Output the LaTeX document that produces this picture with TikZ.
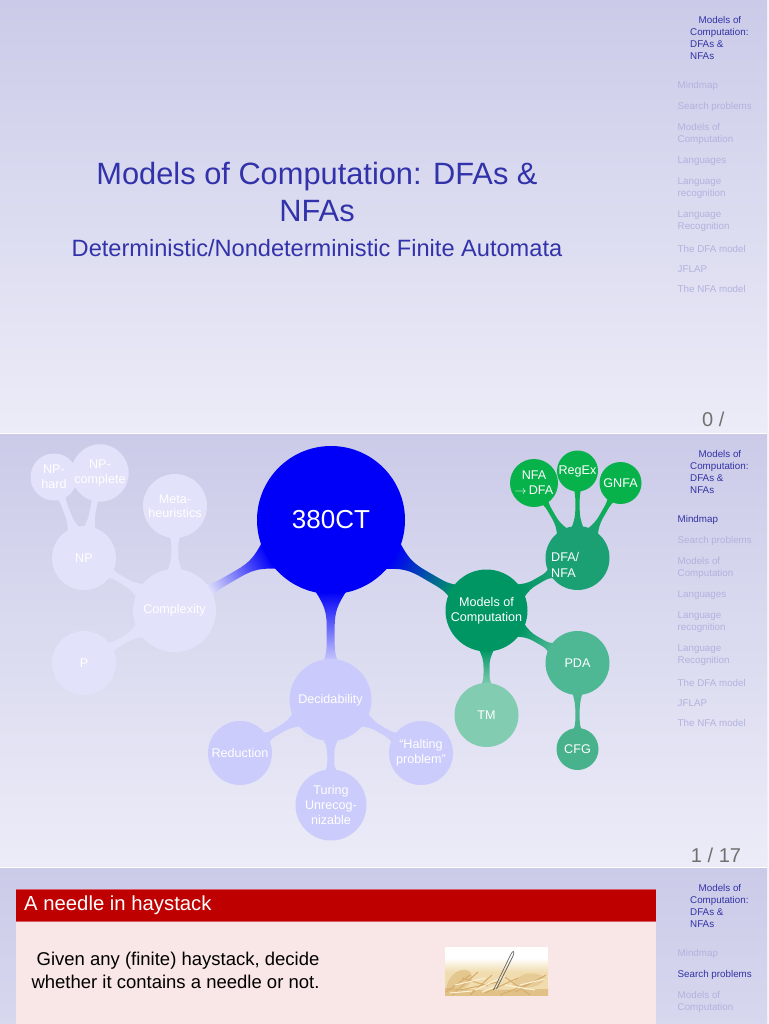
\documentclass[tikz,border=0pt]{standalone}
\usepackage{fontspec}
\setmainfont{Liberation Sans}
\usetikzlibrary{calc}
\definecolor{bgtop}{RGB}{203,203,233}
\definecolor{bgbot}{RGB}{236,236,248}
\definecolor{cMain}{RGB}{0,0,248}
\definecolor{cCplx}{RGB}{226,226,250}
\definecolor{cDec}{RGB}{202,202,252}
\definecolor{cRed}{RGB}{203,203,252}
\definecolor{cMoc}{RGB}{0,150,100}
\definecolor{cDfa}{RGB}{26,160,115}
\definecolor{cNfa}{RGB}{8,178,75}
\definecolor{cPda}{RGB}{78,184,148}
\definecolor{cTm}{RGB}{130,205,178}
\definecolor{cCfg}{RGB}{72,178,140}
\definecolor{navon}{RGB}{50,50,165}
\definecolor{navoff}{RGB}{178,178,222}
\definecolor{pagenum}{RGB}{112,112,112}
\definecolor{titleblue}{RGB}{50,50,170}
\definecolor{blockhead}{RGB}{190,0,0}
\definecolor{blockedge}{RGB}{215,90,100}
\definecolor{blockbody}{RGB}{249,230,230}
\definecolor{hayA}{RGB}{240,220,175}
\definecolor{hayB}{RGB}{214,172,105}
\definecolor{hayC}{RGB}{252,240,212}
\tikzset{
  mm/.style={circle,inner sep=0pt,outer sep=0pt,align=center,text=white,font=\fontsize{#1}{15}\selectfont},
  mm/.default=12.6,
  navtxt/.style={anchor=north west,inner sep=0pt,align=left,font=\fontsize{9.8}{12}\selectfont,text=navoff},
  navact/.style={navtxt,text=navon},
  pagelab/.style={inner sep=0pt,text=pagenum,font=\fontsize{20}{22}\selectfont},
}
% \conn{a}{b}{ra}{rb}{colA}{colB}{flareA}{flareB}{waist}
\newcommand{\conn}[9]{%
  \path let \p1=($(#2)-(#1)$),\n1={atan2(\y1,\x1)},\n2={veclen(\x1,\y1)} in
    \pgfextra{\xdef\cang{\n1}\pgfmathsetmacro{\clen}{\n2/1pt}\xdef\clen{\clen}};%
  \pgfmathsetmacro{\pa}{#3-2}\pgfmathsetmacro{\pb}{\clen-#4+2}%
  \pgfmathsetmacro{\ga}{#3+0.50*(\clen-#3-#4)}\pgfmathsetmacro{\gb}{\clen-#4-0.30*(\clen-#3-#4)}%
  \pgfmathsetmacro{\ca}{#3+0.16*(\clen-#3-#4)}\pgfmathsetmacro{\caa}{#3+0.26*(\clen-#3-#4)}\pgfmathsetmacro{\cb}{\clen-#4-0.08*(\clen-#3-#4)}%
  \pgfmathsetmacro{\wa}{#9+0.30*#7-0.30*#9}\pgfmathsetmacro{\wb}{#9+0.3*#8-0.3*#9}%
  \shade[transform canvas={shift={(#1)},rotate=\cang},left color=#5,right color=#6,x=1pt,y=1pt]
    (\pa,#7) .. controls (\ca,\wa) and (\caa,#9) .. (\ga,#9)
    -- (\gb,#9) .. controls (\cb,#9) and (\cb,\wb) .. (\pb,#8)
    -- (\pb,-#8) .. controls (\cb,-\wb) and (\cb,-#9) .. (\gb,-#9)
    -- (\ga,-#9) .. controls (\caa,-#9) and (\ca,-\wa) .. (\pa,-#7) -- cycle;%
}
\begin{document}
\begin{tikzpicture}[x=1pt,y=-1pt]
\useasboundingbox (0,0) rectangle (768,1024);
% slide backgrounds
\shade[top color=bgtop,bottom color=bgbot] (0,0) rectangle (768,433);
\shade[top color=bgtop,bottom color=bgbot] (0,434) rectangle (768,867);
\begin{scope}
  \clip (0,868) rectangle (768,1024);
  \shade[top color=bgtop,bottom color=bgbot] (0,868) rectangle (768,1301);
\end{scope}
\fill[white] (0,433) rectangle (768,434.2);
\fill[white] (0,867) rectangle (768,868.2);
\fill[white!70!bgtop] (767,0) rectangle (768,1024);

% ---- slide 1
\node[inner sep=0pt,text=titleblue,font=\fontsize{30.8}{37}\selectfont,align=center] (ttl) at (317,192) {Models of Computation: DFAs \&\\NFAs};
\node[inner sep=0pt,text=titleblue,font=\fontsize{23.6}{26}\selectfont] (sub) at (317,248) {Deterministic/Nondeterministic Finite Automata};
\node[pagelab,anchor=west] (pg0) at (702,419) {0 /};

% ---- sidebars
\foreach \o/\s in {0/a,434/b,868/c}{
  \node[navact,anchor=north west] (hd\s) at (690,{\o+16}) {\hspace*{8.5pt}Models of\\Computation:\\DFAs \&\\NFAs};
}
\begin{scope}
\clip (640,0) rectangle (768,1024);
\foreach \o/\ca/\cb in {0/navoff/navoff,434/navon/navoff,868/navoff/navon}{
  \node[navtxt,text=\ca] (n1\o) at (677.5,{\o+81.5}) {Mindmap};
  \node[navtxt,text=\cb] (n2\o) at (677.5,{\o+102.5}) {Search problems};
  \node[navtxt] (n3\o) at (677.5,{\o+123.5}) {Models of\\Computation};
  \ifnum\o<868
  \node[navtxt] (n4\o) at (677.5,{\o+156.5}) {Languages};
  \node[navtxt] (n5\o) at (677.5,{\o+177.5}) {Language\\recognition};
  \node[navtxt] (n6\o) at (677.5,{\o+210.5}) {Language\\Recognition};
  \node[navtxt] (n7\o) at (677.5,{\o+245}) {The DFA model};
  \node[navtxt] (n8\o) at (677.5,{\o+266}) {JFLAP};
  \node[navtxt] (n9\o) at (677.5,{\o+285}) {The NFA model};
  \fi
}
\end{scope}

% ---- slide 2: node coordinates
\coordinate (Ccore) at (331,520);
\coordinate (Ccx) at (174.5,610.5);
\coordinate (Cnp) at (84,558);
\coordinate (Cp) at (84,663);
\coordinate (Cmeta) at (175,506);
\coordinate (Chard) at (54,477);
\coordinate (Ccomp) at (100,473);
\coordinate (Cdec) at (330.5,700);
\coordinate (Credu) at (240,753);
\coordinate (Ctur) at (331,805);
\coordinate (Chalt) at (421,753);
\coordinate (Cmoc) at (486.5,610.5);
\coordinate (Cdfa) at (577.5,558);
\coordinate (Cnfa) at (534,483);
\coordinate (Creg) at (577.5,471);
\coordinate (Cgnfa) at (620.5,483);
\coordinate (Cpda) at (577.5,663);
\coordinate (Ctm) at (486.5,715);
\coordinate (Ccfg) at (577.5,749);

% connectors
\conn{Ccore}{Ccx}{74}{41.5}{cMain}{cCplx}{14.5}{7}{4}
\conn{Ccore}{Cdec}{74}{41}{cMain}{cDec}{15}{7}{4}
\conn{Ccore}{Cmoc}{74}{41}{cMain}{cMoc}{14.5}{7}{4}
\conn{Ccx}{Cnp}{41.5}{32}{cCplx}{cCplx}{7.5}{5.5}{3.5}
\conn{Ccx}{Cp}{41.5}{32}{cCplx}{cCplx}{7.5}{5.5}{3.5}
\conn{Ccx}{Cmeta}{41.5}{32}{cCplx}{cCplx}{7.5}{5.5}{3.5}
\conn{Cnp}{Chard}{32}{23.5}{cCplx}{cCplx}{6}{4}{3}
\conn{Cnp}{Ccomp}{32}{24}{cCplx}{cCplx}{6}{4}{3}
\conn{Cdec}{Credu}{41}{32}{cDec}{cRed}{7.5}{5.5}{3.5}
\conn{Cdec}{Ctur}{41}{36}{cDec}{cRed}{7.5}{5.5}{3.5}
\conn{Cdec}{Chalt}{41}{32}{cDec}{cRed}{7.5}{5.5}{3.5}
\conn{Cmoc}{Cdfa}{41}{32}{cMoc}{cDfa}{7.5}{5.5}{3}
\conn{Cmoc}{Cpda}{41}{32}{cMoc}{cPda}{7.5}{5.5}{3}
\conn{Cmoc}{Ctm}{41}{32}{cMoc}{cTm}{7.5}{5.5}{3}
\conn{Cdfa}{Cnfa}{32}{24}{cDfa}{cNfa}{6}{3.5}{2.2}
\conn{Cdfa}{Creg}{32}{20.5}{cDfa}{cNfa}{6}{3.5}{2.2}
\conn{Cdfa}{Cgnfa}{32}{21}{cDfa}{cNfa}{6}{3.5}{2.2}
\conn{Cpda}{Ccfg}{32}{21}{cPda}{cCfg}{5}{4}{2.2}

% nodes
\node[mm=26,fill=cMain,minimum size=148pt] (core) at (Ccore) {380CT};
\node[mm,fill=cCplx,minimum size=83pt] (cx) at (Ccx) {Complexity};
\node[mm,fill=cCplx,minimum size=64pt] (np) at (Cnp) {NP};
\node[mm,fill=cCplx,minimum size=64pt] (p) at (Cp) {P};
\node[mm,fill=cCplx,minimum size=64pt] (meta) at (Cmeta) {Meta-\\[-0.5pt]heuristics};
\node[mm,fill=cCplx,minimum size=47pt] (hard) at (Chard) {NP-\\hard};
\node[mm,fill=cCplx,minimum size=48pt] (comp) at (Ccomp) {NP-\\complete};
\node[mm,fill=cDec,minimum size=82pt] (dec) at (Cdec) {Decidability};
\node[mm,fill=cRed,minimum size=64pt] (redu) at (Credu) {Reduction};
\node[mm,fill=cRed,minimum size=71pt] (tur) at (Ctur) {Turing\\Unrecog-\\nizable};
\node[mm,fill=cRed,minimum size=64pt] (halt) at (Chalt) {``Halting\\problem''};
\node[mm,fill=cMoc,minimum size=82pt] (moc) at (Cmoc) {Models of\\Computation};
\node[mm,fill=cDfa,minimum size=64pt] (dfa) at (Cdfa) {};
\node[inner sep=0pt,anchor=west,align=left,text=white,font=\fontsize{12.6}{15.5}\selectfont] (dfatxt) at (551,565) {DFA/\\NFA};
\node[mm,fill=cNfa,minimum size=48pt] (nfa) at (Cnfa) {NFA\\$\rightarrow$\,DFA};
\node[mm,fill=cNfa,minimum size=41pt] (reg) at (Creg) {RegEx};
\node[mm,fill=cNfa,minimum size=42pt] (gnfa) at (Cgnfa) {GNFA};
\node[mm,fill=cPda,minimum size=64pt] (pda) at (Cpda) {PDA};
\node[mm,fill=cTm,minimum size=64pt] (tm) at (Ctm) {TM};
\node[mm,fill=cCfg,minimum size=42pt] (cfg) at (Ccfg) {CFG};
\node[pagelab] (pg1) at (716,855) {1 / 17};

% ---- slide 3
\fill[blockbody] (16,922) rectangle (656,1024);
\fill[blockhead] (16,889) rectangle (656,922);
\fill[blockedge] (16,889) rectangle (656,889.7);
\fill[blockedge] (16,921.4) rectangle (656,922.2);
\node[inner sep=0pt,anchor=west,text=white,font=\fontsize{20.3}{24}\selectfont] (bhead) at (24,905) {A needle in haystack};
\node[inner sep=0pt,text=black,align=center,font=\fontsize{18.5}{23.5}\selectfont] (btext) at (175.5,970.5) {\hspace*{5pt}Given any (finite) haystack, decide\\whether it contains a needle or not.};
% picture of hay and needle
\begin{scope}
  \clip (445,947) rectangle (548,995.5);
  \fill[white] (445,947) rectangle (548,995.5);
  \shade[top color=white,bottom color=hayA] (445,958) rectangle (548,972);
  \fill[hayA] (445,995.5) -- (445,972) -- (548,972) -- (548,995.5) -- cycle;
  \fill[hayB,opacity=.45] (446,990) .. controls (447,975) and (462,965) .. (470,972) .. controls (476,980) and (468,992) .. (446,990) -- cycle;
  \fill[hayB,opacity=.35] (512,985) .. controls (518,972) and (535,970) .. (546,978) .. controls (540,988) and (525,990) .. (512,985) -- cycle;
  \fill[hayB,opacity=.55] (445,996) -- (445,988) -- (480,990) -- (548,989) -- (548,996) -- cycle;
  \foreach \a/\b/\c/\d in {446/992/470/975, 452/995/478/972, 460/990/498/982, 470/995/492/975, 485/993/518/978, 500/995/538/980, 515/992/546/975, 530/995/505/977, 488/986/462/978}{
    \draw[hayB,line width=1pt] (\a,\b) -- (\c,\d);
  }
  \foreach \a/\b/\c/\d in {455/985/485/978, 505/985/535/990, 475/990/505/976, 520/985/545/979, 450/993/472/991, 482/992/497/986}{
    \draw[hayC,line width=1.1pt] (\a,\b) -- (\c,\d);
  }
  \draw[black!60,line width=.7pt] (493.5,990) -- (511,954) .. controls (513,950) and (515,951) .. (513,956) -- (496.5,989);
\end{scope}
\end{tikzpicture}
\end{document}
